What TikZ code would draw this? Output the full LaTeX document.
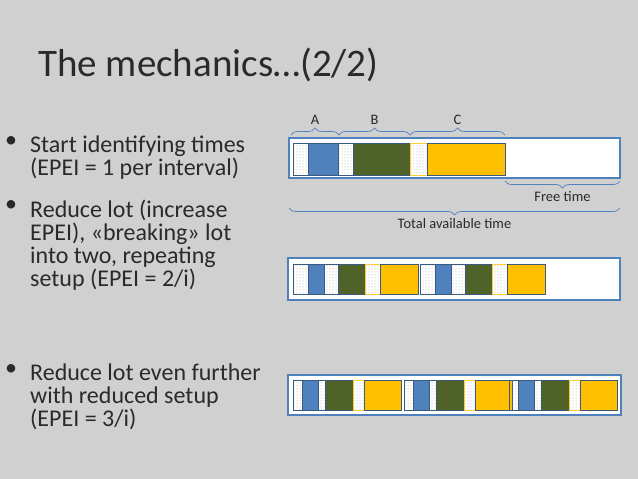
\documentclass[tikz,border=0pt]{standalone}
\usepackage{fontspec}
\setmainfont{Carlito}
\usetikzlibrary{patterns,decorations.pathreplacing}
\definecolor{bg}{HTML}{D0D0D0}
\definecolor{cA}{HTML}{4F81BD}
\definecolor{cB}{HTML}{4F6228}
\definecolor{cC}{HTML}{FFC000}
\definecolor{edge}{HTML}{3B5A80}
\definecolor{txt}{HTML}{2A2A2A}
\begin{document}
\begin{tikzpicture}[x=1pt,y=-1pt,
  outer/.style={draw=cA,line width=1.2pt,fill=white},
  su/.style={fill=white,pattern=dots,pattern color=gray!70,draw=edge,line width=0.8pt},
  suc/.style={fill=white,pattern=dots,pattern color=gray!70,draw=cC!80!white,line width=1pt},
  ba/.style={fill=cA,draw=edge,line width=0.8pt},
  bb/.style={fill=cB,draw=edge,line width=0.8pt},
  bc/.style={fill=cC,draw=edge,line width=0.8pt},
  br/.style={draw=cA,line width=0.7pt,decorate,decoration={brace,amplitude=7pt}},
  lab/.style={font=\fontsize{14.5}{16}\selectfont,text=txt},
  bul/.style={anchor=north west,align=left,font=\fontsize{24}{23}\selectfont,text=txt,inner sep=0pt}]
\fill[bg] (0,0) rectangle (638,479);
\useasboundingbox (0,0) rectangle (638,479);
\node[anchor=west,font=\fontsize{39}{40}\selectfont,text=txt,inner sep=0pt] (title) at (38,65) {The mechanics…(2/2)};
\foreach \y/\t [count=\i] in {136/{Start identifying times\\(EPEI = 1 per interval)},200/{Reduce lot (increase\\EPEI), «breaking» lot\\into two, repeating\\setup (EPEI = 2/i)},364/{Reduce lot even further\\with reduced setup\\(EPEI = 3/i)}}{
  \node[bul] (b\i) at (30,\y) {\t};
  \node[anchor=north west,inner sep=0pt,font=\fontsize{24}{23}\selectfont,text=txt] (d\i) at (5,\y) {•};
}
% bar 1
\draw[outer] (289,138) rectangle (620,178);
\draw[su] (293,143) rectangle (308,175);
\draw[ba] (308,143) rectangle (338,175);
\draw[su] (338,143) rectangle (353,175);
\draw[bb] (353,143) rectangle (410,175);
\draw[suc] (410,143) rectangle (427,175);
\draw[bc] (427,143) rectangle (505,175);
\draw[br] (291,135) -- (339,135) node[midway,above=7pt,lab] (lA) {A};
\draw[br] (339,135) -- (410,135) node[midway,above=7pt,lab] (lB) {B};
\draw[br] (410,135) -- (505,135) node[midway,above=7pt,lab] (lC) {C};
\draw[br] (620,181) -- (505,181) node[midway,below=7pt,lab] (lF) {Free time};
\draw[br] (620,208) -- (289,208) node[midway,below=7pt,lab] (lT) {Total available time};
% bar 2
\draw[outer] (288,258) rectangle (620,300);
\foreach \o in {0,127}{
 \begin{scope}[xshift=\o]
 \draw[su] (293,264) rectangle (308,294);
 \draw[ba] (308,264) rectangle (324,294);
 \draw[su] (324,264) rectangle (338,294);
 \draw[bb] (338,264) rectangle (365,294);
 \draw[suc] (365,264) rectangle (380,294);
 \draw[bc] (380,264) rectangle (418,294);
 \end{scope}}
% bar 3
\draw[outer] (288,375) rectangle (621,415);
\foreach \o in {0,111,216}{
 \begin{scope}[xshift=\o]
 \draw[su] (293,380) rectangle (302,410);
 \draw[ba] (302,380) rectangle (318,410);
 \draw[su] (318,380) rectangle (325,410);
 \draw[bb] (325,380) rectangle (353,410);
 \draw[suc] (353,380) rectangle (364,410);
 \draw[bc] (364,380) rectangle (401,410);
 \end{scope}}
\end{tikzpicture}
\end{document}
